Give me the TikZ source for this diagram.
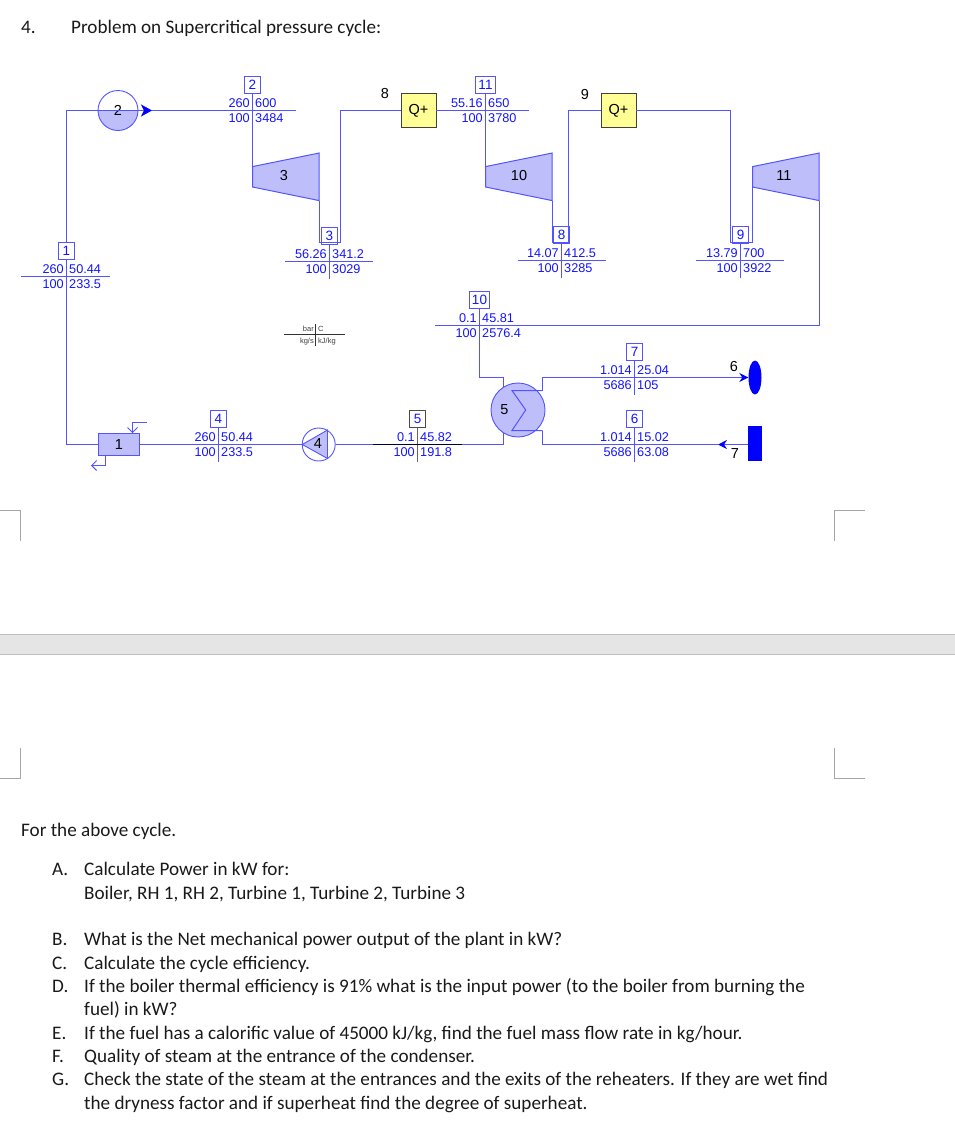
\documentclass[tikz,border=0pt]{standalone}
\usepackage{fontspec}
\setmainfont{Carlito}
\newfontfamily\plantfont{Liberation Sans}
\usepackage{tikz}
\usetikzlibrary{positioning,arrows.meta,shapes.geometric}
\usepackage{xcolor}
\definecolor{pipeblue}{RGB}{84,84,255}
\definecolor{fillblue}{RGB}{190,190,250}
\definecolor{textblue}{RGB}{20,20,255}
\definecolor{heatyellow}{RGB}{255,255,150}
\tikzset{
	pipe/.style={pipeblue, line width=1pt},
	crossline/.style={pipeblue, line width=1pt},
	statetag/.style={draw=pipeblue, fill=white, text=textblue, font=\plantfont\fontsize{13.5}{13.5}\selectfont, line width=1pt, minimum width=16pt, minimum height=17pt, inner xsep=2.5pt, inner ysep=1pt},
	valueleft/.style={text=textblue, font=\plantfont\fontsize{12.7}{12.7}\selectfont, anchor=base east, inner sep=0pt},
	valueright/.style={text=textblue, font=\plantfont\fontsize{12.7}{12.7}\selectfont, anchor=base west, inner sep=0pt},
	unitlabel/.style={font=\plantfont\fontsize{14.5}{14.5}\selectfont, text=black, inner sep=0pt},
	turbinebody/.style={draw=pipeblue, fill=fillblue, line width=1pt},
	heater/.style={draw=black!75, fill=heatyellow, line width=0.9pt, minimum width=35pt, minimum height=34pt, inner sep=0pt, font=\plantfont\fontsize{14.5}{14.5}\selectfont},
	doctext/.style={anchor=base west, inner sep=0pt, font=\fontsize{19.15}{19.15}\selectfont, text=black!90},
	keytext/.style={inner sep=0pt, font=\plantfont\fontsize{7.5}{7.5}\selectfont, text=black!75},
	cropmark/.style={black!35, line width=0.8pt},
	flowtip/.style={-{Stealth[length=11pt,width=12pt,inset=3pt,color=blue]}},
	smalltip/.style={-{Stealth[length=9pt,width=9pt,inset=3pt,color=blue]}},
	opentip/.style={-{Straight Barb[length=5pt,width=10pt]}},
}
% one state point: tag box, cross and the four values
\newcommand{\statetable}[9]{
	\node [statetag] (tag#1) at (#2, #3-26) {#1};
	\coordinate (low#1) at (#2, #3+17);
	\coordinate (west#1) at (#4, #3);
	\coordinate (east#1) at (#5, #3);
	\draw [crossline] (tag#1)--(low#1);
	\draw [crossline] (west#1)--(east#1);
	\node [valueleft] (pres#1) at (#2-2.5, #3-3) {#6};
	\node [valueright] (temp#1) at (#2+2.5, #3-3) {#7};
	\node [valueleft] (flow#1) at (#2-2.5, #3+12) {#8};
	\node [valueright] (enth#1) at (#2+2.5, #3+12) {#9};
}
% turbine body, left edge at #2
\newcommand{\turbine}[3]{
	\coordinate (#1in) at (#2, 166.6);
	\coordinate (#1low) at (#2, 187);
	\coordinate (#1top) at (#2+66.7, 153);
	\coordinate (#1out) at (#2+66.7, 200.6);
	\draw [turbinebody] (#1in)--(#1top)--(#1out)--(#1low)--cycle;
	\node [unitlabel] (#1label) at (#3, 176) {#1};
}
\begin{document}
\begin{tikzpicture} [x=1pt, y=-1pt]
	\useasboundingbox (0, 0) rectangle (955, 1128);
	% heading
	\node [doctext] (qnum) at (21, 33) {4.};
	\node [doctext] (qtitle) at (71, 33) {Problem on Supercritical pressure cycle:};
	% equipment
	\node [circle, draw=pipeblue, fill=white, line width=0.9pt, minimum size=40pt, inner sep=0pt, path picture={\fill [fillblue] (path picture bounding box.west) rectangle (path picture bounding box.south east);}] (boilerpump) at (118, 110.5) {};
	\node [unitlabel] (boilerpumplabel) at (118, 110) {2};
	\node [draw=pipeblue, fill=fillblue, line width=1.2pt, minimum width=41pt, minimum height=21.5pt, inner sep=0pt, font=\plantfont\fontsize{14.5}{14.5}\selectfont] (boiler) at (119, 444.5) {1};
	\node [circle, draw=pipeblue, fill=white, line width=0.9pt, minimum size=33pt, inner sep=0pt] (feedpump) at (318.7, 444.5) {};
	\coordinate (feedA) at (302.3, 444.5);
	\coordinate (feedB) at (327.5, 430);
	\coordinate (feedC) at (327.5, 458.5);
	\draw [turbinebody, line width=0.9pt] (feedA)--(feedB)--(feedC)--cycle;
	\node [unitlabel] (feedlabel) at (318, 444) {4};
	\node [heater] (reheatA) at (418.5, 110.5) {Q+};
	\node [heater] (reheatB) at (618.5, 110.5) {Q+};
	\turbine{3}{252.5}{284}
	\turbine{10}{485.5}{519}
	\turbine{11}{752.5}{784}
	\node [circle, draw=pipeblue, fill=fillblue, line width=0.9pt, minimum size=54pt, inner sep=0pt] (condenser) at (518, 410) {};
	\node [unitlabel] (condenserlabel) at (504.5, 410) {5};
	\node [ellipse, fill=blue, minimum width=13pt, minimum height=34pt, inner sep=0pt] (coolout) at (755, 377.5) {};
	\node [rectangle, fill=blue, minimum width=13.5pt, minimum height=35pt, inner sep=0pt] (coolin) at (755, 443.5) {};
	\node [unitlabel] (labelA) at (385, 94) {8};
	\node [unitlabel] (labelB) at (585, 95) {9};
	\node [unitlabel] (labelC) at (734, 367) {6};
	\node [unitlabel] (labelD) at (735, 454) {7};
	% state points
	\statetable{1}{66.5}{276.5}{21}{110}{260}{50.44}{100}{233.5}
	\statetable{2}{252.5}{110.5}{228}{296}{260}{600}{100}{3484}
	\statetable{3}{329.5}{261.5}{285}{373}{56.26}{341.2}{100}{3029}
	\statetable{4}{218.5}{444.5}{212}{226}{260}{50.44}{100}{233.5}
	\statetable{11}{485.5}{110.5}{470}{529}{55.16}{650}{100}{3780}
	\statetable{8}{561.5}{260.5}{517.6}{605.6}{14.07}{412.5}{100}{3285}
	\statetable{9}{740.5}{260.5}{696}{784}{13.79}{700}{100}{3922}
	\statetable{10}{479.5}{325.5}{435}{818.5}{0.1}{45.81}{100}{2576.4}
	\statetable{7}{634.5}{377.5}{628}{642}{1.014}{25.04}{5686}{105}
	\statetable{6}{634.5}{444.5}{628}{642}{1.014}{15.02}{5686}{63.08}
	\begin{scope} [crossline/.style={black!60, line width=1pt}, statetag/.style={draw=black!70, fill=white, text=textblue, font=\plantfont\fontsize{13.5}{13.5}\selectfont, line width=1pt, minimum width=16pt, minimum height=17pt, inner xsep=2.5pt, inner ysep=1pt}]
		\statetable{5}{417.5}{444.5}{373}{461.7}{0.1}{45.82}{100}{191.8}
	\end{scope}
	\draw [black!80!blue, line width=1pt] (west5)--(east5);
	% units key
	\coordinate (keyW) at (284, 334.5);
	\coordinate (keyE) at (345, 334.5);
	\coordinate (keyN) at (315.5, 324);
	\coordinate (keyS) at (315.5, 346);
	\draw [black!80, line width=0.7pt] (keyW)--(keyE);
	\draw [black!80, line width=0.7pt] (keyN)--(keyS);
	\node [keytext, anchor=base east] (keyA) at (314, 331) {bar};
	\node [keytext, anchor=base west] (keyB) at (318, 331) {C};
	\node [keytext, anchor=base east] (keyC) at (314, 343) {kg/s};
	\node [keytext, anchor=base west] (keyD) at (318, 343) {kJ/kg};
	% steam and water lines
	\coordinate (bendA) at (66.5, 110.5);
	\coordinate (bendB) at (66.5, 444.5);
	\coordinate (tipA) at (152, 110.5);
	\draw [pipe] (boiler)--(bendB)--(low1);
	\draw [pipe] (tag1)--(bendA)--(boilerpump.west);
	\draw [pipe] (boilerpump.west)--(boilerpump.east);
	\draw [pipe, flowtip] (boilerpump.east)--(tipA);
	\draw [pipe] (tipA)--(west2);
	\draw [pipe] (low2)--(3in);
	\coordinate (bendC) at (319.2, 242.5);
	\coordinate (bendD) at (340.5, 242.5);
	\coordinate (bendE) at (340.5, 110.5);
	\draw [pipe] (3out)--(bendC)--(bendD)--(bendE)--(reheatA);
	\coordinate (inlet11) at (470, 110.5);
	\draw [pipe] (reheatA)--(inlet11);
	\draw [pipe] (low11)--(10in);
	\coordinate (bendF) at (552.2, 242.5);
	\coordinate (bendG) at (568.5, 242.5);
	\coordinate (bendH) at (568.5, 110.5);
	\draw [pipe] (10out)--(bendF)--(bendG)--(bendH)--(reheatB);
	\coordinate (bendI) at (730.5, 110.5);
	\coordinate (bendJ) at (730.5, 242.5);
	\coordinate (bendK) at (752.5, 242.5);
	\draw [pipe] (reheatB)--(bendI)--(bendJ)--(bendK)--(11low);
	\coordinate (bendL) at (819.2, 325.5);
	\draw [pipe] (11out)--(bendL)--(east10);
	\coordinate (bendM) at (479.5, 377.5);
	\coordinate (bendN) at (503.5, 377.5);
	\coordinate (condin) at (503.5, 387);
	\draw [pipe] (low10)--(bendM)--(bendN)--(condin);
	\coordinate (condout) at (503.5, 433);
	\coordinate (bendO) at (503.5, 444.5);
	\draw [pipe] (condout)--(bendO)--(east5);
	\draw [pipe] (west5)--(feedpump);
	\draw [pipe] (feedpump)--(boiler);
	% condenser coil and cooling water
	\coordinate (coilA) at (542.5, 390.5);
	\coordinate (coilB) at (512, 390.5);
	\coordinate (coilC) at (525.7, 410);
	\coordinate (coilD) at (512, 430.5);
	\coordinate (coilE) at (542.5, 430.5);
	\draw [pipe] (coilA)--(coilB)--(coilC)--(coilD)--(coilE);
	\coordinate (bendP) at (542.5, 377.5);
	\coordinate (bendQ) at (542.5, 444.5);
	\coordinate (tipB) at (718, 444.5);
	\draw [pipe] (coilA)--(bendP)--(tag7 |- bendP);
	\draw [pipe, smalltip] (tag7 |- bendP)--(coolout);
	\coordinate (coolstart) at (748.2, 444.5);
	\draw [pipe, smalltip] (coolstart)--(tipB);
	\draw [pipe] (tipB)--(bendQ)--(coilE);
	% fuel and air at the boiler
	\coordinate (fuelA) at (146.5, 422.5);
	\coordinate (fuelB) at (132.5, 422.5);
	\coordinate (fuelC) at (132.5, 433.2);
	\draw [pipe, opentip] (fuelA)--(fuelB)--(fuelC);
	\coordinate (fuelD) at (105.5, 455);
	\coordinate (fuelE) at (105.5, 465.5);
	\coordinate (fuelF) at (91, 465.5);
	\draw [pipe, opentip] (fuelD)--(fuelE)--(fuelF);
	% page break marks
	\coordinate (markA) at (0, 510);
	\coordinate (markB) at (20, 510);
	\coordinate (markC) at (20, 541);
	\draw [cropmark] (markA)--(markB)--(markC);
	\coordinate (markD) at (865, 510);
	\coordinate (markE) at (834, 510);
	\coordinate (markF) at (834, 541);
	\draw [cropmark] (markD)--(markE)--(markF);
	\coordinate (markG) at (0, 778);
	\coordinate (markH) at (20, 778);
	\coordinate (markI) at (20, 748);
	\draw [cropmark] (markG)--(markH)--(markI);
	\coordinate (markJ) at (865, 778);
	\coordinate (markK) at (834, 778);
	\coordinate (markL) at (834, 748);
	\draw [cropmark] (markJ)--(markK)--(markL);
	\fill [black!10] (0, 634.5) rectangle (955, 654.5);
	\draw [black!25, line width=0.8pt] (0, 634.5)--(955, 634.5);
	\draw [black!25, line width=0.8pt] (0, 654.5)--(955, 654.5);
	% questions
	\node [doctext] (intro) at (21, 836) {For the above cycle.};
	\node [doctext] (itemA) at (52, 875) {A.};
	\node [doctext] (textA) at (84, 875) {Calculate Power in kW for:};
	\node [doctext] (textAb) at (84, 899) {Boiler, RH 1, RH 2, Turbine 1, Turbine 2, Turbine 3};
	\node [doctext] (itemB) at (52, 945) {B.};
	\node [doctext] (textB) at (84, 945) {What is the Net mechanical power output of the plant in kW?};
	\node [doctext] (itemC) at (52, 969) {C.};
	\node [doctext] (textC) at (84, 969) {Calculate the cycle efficiency.};
	\node [doctext] (itemD) at (52, 992) {D.};
	\node [doctext] (textD) at (84, 992) {If the boiler thermal efficiency is 91\% what is the input power (to the boiler from burning the};
	\node [doctext] (textDb) at (84, 1015) {fuel) in kW?};
	\node [doctext] (itemE) at (52, 1039) {E.};
	\node [doctext] (textE) at (84, 1039) {If the fuel has a calorific value of 45000 kJ/kg, find the fuel mass flow rate in kg/hour.};
	\node [doctext] (itemF) at (52, 1062) {F.};
	\node [doctext] (textF) at (84, 1062) {Quality of steam at the entrance of the condenser.};
	\node [doctext] (itemG) at (52, 1085) {G.};
	\node [doctext] (textG) at (84, 1085) {Check the state of the steam at the entrances and the exits of the reheaters. If they are wet find};
	\node [doctext] (textGb) at (84, 1109) {the dryness factor and if superheat find the degree of superheat.};
\end{tikzpicture}
\end{document}
